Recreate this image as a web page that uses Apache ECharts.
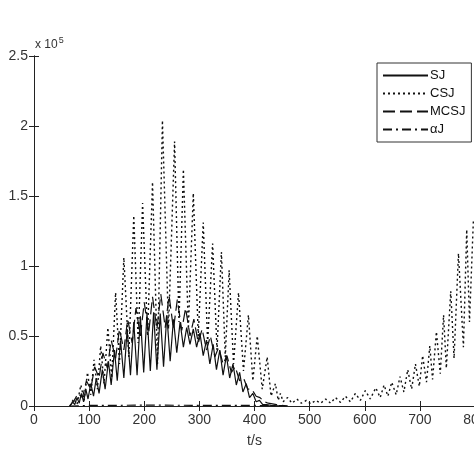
<!DOCTYPE html>
<html>
<head>
<meta charset="utf-8">
<script src="https://cdn.jsdelivr.net/npm/echarts@6/dist/echarts.min.js"></script>
<style>html,body{margin:0;padding:0;background:#fff;}#c{width:474px;height:474px;}</style>
</head>
<body>
<div id="c"></div>
<script>
// time (s) and value (x 1e5) arrays
var tSJ = [65,70,74,78,82,86,90,94,98,103,108,113,118,124,129,135,140,146,151,157,163,169,175,181,187,193,199,205,211,217,223,229,235,241,247,253,259,265,271,277,283,289,295,301,307,313,319,325,331,337,343,349,355,361,367,373,379,385,391,397,403,409,415,422,430,450];
var vSJ = [0,0.03,0.01,0.06,0.02,0.09,0.03,0.12,0.05,0.16,0.07,0.2,0.09,0.26,0.12,0.32,0.15,0.4,0.18,0.47,0.2,0.55,0.22,0.6,0.22,0.64,0.24,0.66,0.25,0.67,0.26,0.66,0.28,0.65,0.32,0.62,0.38,0.6,0.42,0.56,0.44,0.55,0.42,0.52,0.36,0.47,0.3,0.44,0.26,0.4,0.22,0.36,0.2,0.3,0.15,0.24,0.1,0.16,0.06,0.09,0.03,0.04,0.01,0.01,0.005,0];

var tCSJ = [65,72,78,85,91,97,103,109,115,121,127,134,141,148,155,163,172,181,189,197,206,215,224,233,244,255,263,271,280,289,298,307,315,324,332,340,347,354,362,371,380,389,397,405,414,423,430,438,443,447,452,460,468,477,485,494,502,511,520,529,538,547,556,565,574,583,592,601,610,620,628,635,642,649,657,664,671,678,685,692,699,705,712,718,723,730,737,743,748,756,762,770,779,785,790,797];
var vCSJ = [0,0.05,0.01,0.15,0.04,0.24,0.08,0.33,0.12,0.43,0.16,0.56,0.2,0.81,0.3,1.06,0.35,1.36,0.45,1.45,0.5,1.6,0.3,2.04,0.55,1.89,0.6,1.69,0.55,1.52,0.5,1.31,0.45,1.16,0.4,1.1,0.35,0.97,0.3,0.81,0.25,0.65,0.18,0.5,0.12,0.35,0.07,0.16,0.04,0.09,0.03,0.06,0.02,0.05,0.02,0.04,0.015,0.04,0.02,0.05,0.02,0.06,0.025,0.07,0.03,0.09,0.04,0.11,0.05,0.13,0.06,0.15,0.07,0.17,0.08,0.21,0.1,0.26,0.12,0.3,0.14,0.36,0.17,0.43,0.19,0.53,0.23,0.65,0.27,0.82,0.34,1.09,0.42,1.26,0.6,1.32];

var tMCSJ = [65,73,80,88,95,103,110,118,125,133,140,148,155,163,170,178,185,193,200,208,215,223,230,238,245,253,260,268,275,283,290,298,305,313,320,328,335,343,350,358,365,373,380,388,395,403,410,418,425,440,460];
var vMCSJ = [0,0.04,0.09,0.06,0.18,0.12,0.28,0.2,0.38,0.27,0.47,0.34,0.55,0.4,0.62,0.45,0.7,0.5,0.74,0.52,0.78,0.55,0.8,0.56,0.79,0.55,0.76,0.54,0.7,0.5,0.62,0.45,0.55,0.4,0.5,0.35,0.42,0.3,0.36,0.24,0.28,0.18,0.2,0.12,0.12,0.07,0.06,0.03,0.02,0.01,0];

var tAJ = [65,100,200,300,400,450,460];
var vAJ = [0,0.004,0.006,0.005,0.004,0.002,0];

var seriesNames = ['SJ','CSJ','MCSJ','\u03b1J'];
var xTicks = [0,100,200,300,400,500,600,700,800];
var yTicks = [0,0.5,1,1.5,2,2.5];

function pairs(t, v){ return t.map(function(x,i){ return [x, v[i]]; }); }

var font = '"Liberation Sans", Arial, sans-serif';
var chart = echarts.init(document.getElementById('c'));
var axisCol = '#222';
chart.setOption({
  animation: false,
  backgroundColor: '#fff',
  grid: { left: 34, top: 56, width: 441, height: 350, containLabel: false, outerBoundsMode: 'none' },
  legend: {
    orient: 'vertical', left: 377, top: 63,
    backgroundColor: '#fff', borderColor: '#333', borderWidth: 1,
    padding: [6, 6, 6, 5], itemGap: 5, itemWidth: 45, itemHeight: 14,
    itemStyle: { opacity: 0 },
    textStyle: { fontFamily: font, fontSize: 13, color: '#111', padding: [0,0,0,-3] },
    data: seriesNames
  },
  graphic: [{
    type: 'text', left: 35, top: 36,
    style: {
      text: '{a|x 10}{b|5}',
      rich: {
        a: { fontFamily: font, fontSize: 12, fill: '#333' },
        b: { fontFamily: font, fontSize: 9, fill: '#333', verticalAlign: 'top', padding: [0,0,8,1] }
      }
    }
  }],
  xAxis: [{
    type: 'value', min: 0, max: 800, interval: 100,
    name: 't/s', nameLocation: 'middle', nameGap: 28,
    nameTextStyle: { fontFamily: font, fontSize: 14, color: '#333' },
    axisLine: { lineStyle: { color: axisCol, width: 1 } },
    axisTick: { inside: true, length: 5, lineStyle: { color: axisCol } },
    axisLabel: { fontFamily: font, fontSize: 14, color: '#333', margin: 7,
      customValues: xTicks },
    splitLine: { show: false }
  },{
    type: 'value', min: 0, max: 800, interval: 100, position: 'top',
    axisLine: { show: true, lineStyle: { color: axisCol, width: 1 } },
    axisTick: { inside: true, length: 5, lineStyle: { color: axisCol } },
    axisLabel: { show: false }, splitLine: { show: false }
  }],
  yAxis: [{
    type: 'value', min: 0, max: 2.5, interval: 0.5,
    axisLine: { show: true, lineStyle: { color: axisCol, width: 1 } },
    axisTick: { show: true, inside: true, length: 5, lineStyle: { color: axisCol } },
    axisLabel: { fontFamily: font, fontSize: 14, color: '#333', margin: 6 },
    splitLine: { show: false }
  },{
    type: 'value', min: 0, max: 2.5, interval: 0.5, position: 'right',
    axisLine: { show: true, lineStyle: { color: axisCol, width: 1 } },
    axisTick: { show: true, inside: true, length: 5, lineStyle: { color: axisCol } },
    axisLabel: { show: false }, splitLine: { show: false }
  }],
  series: [
    { name: seriesNames[0], type: 'line', symbol: 'none', data: pairs(tSJ, vSJ),
      lineStyle: { color: '#111', width: 1.2, type: 'solid' }, itemStyle: { color: '#111' }, z: 4 },
    { name: seriesNames[1], type: 'line', symbol: 'none', data: pairs(tCSJ, vCSJ),
      lineStyle: { color: '#111', width: 1.4, type: [2, 3] }, itemStyle: { color: '#111' }, z: 3 },
    { name: seriesNames[2], type: 'line', symbol: 'none', data: pairs(tMCSJ, vMCSJ),
      lineStyle: { color: '#111', width: 1.2, type: [12, 5] }, itemStyle: { color: '#111' }, z: 2 },
    { name: seriesNames[3], type: 'line', symbol: 'none', data: pairs(tAJ, vAJ),
      lineStyle: { color: '#111', width: 1.2, type: [9, 4, 2, 4] }, itemStyle: { color: '#111' }, z: 1 }
  ]
});
</script>
</body>
</html>
